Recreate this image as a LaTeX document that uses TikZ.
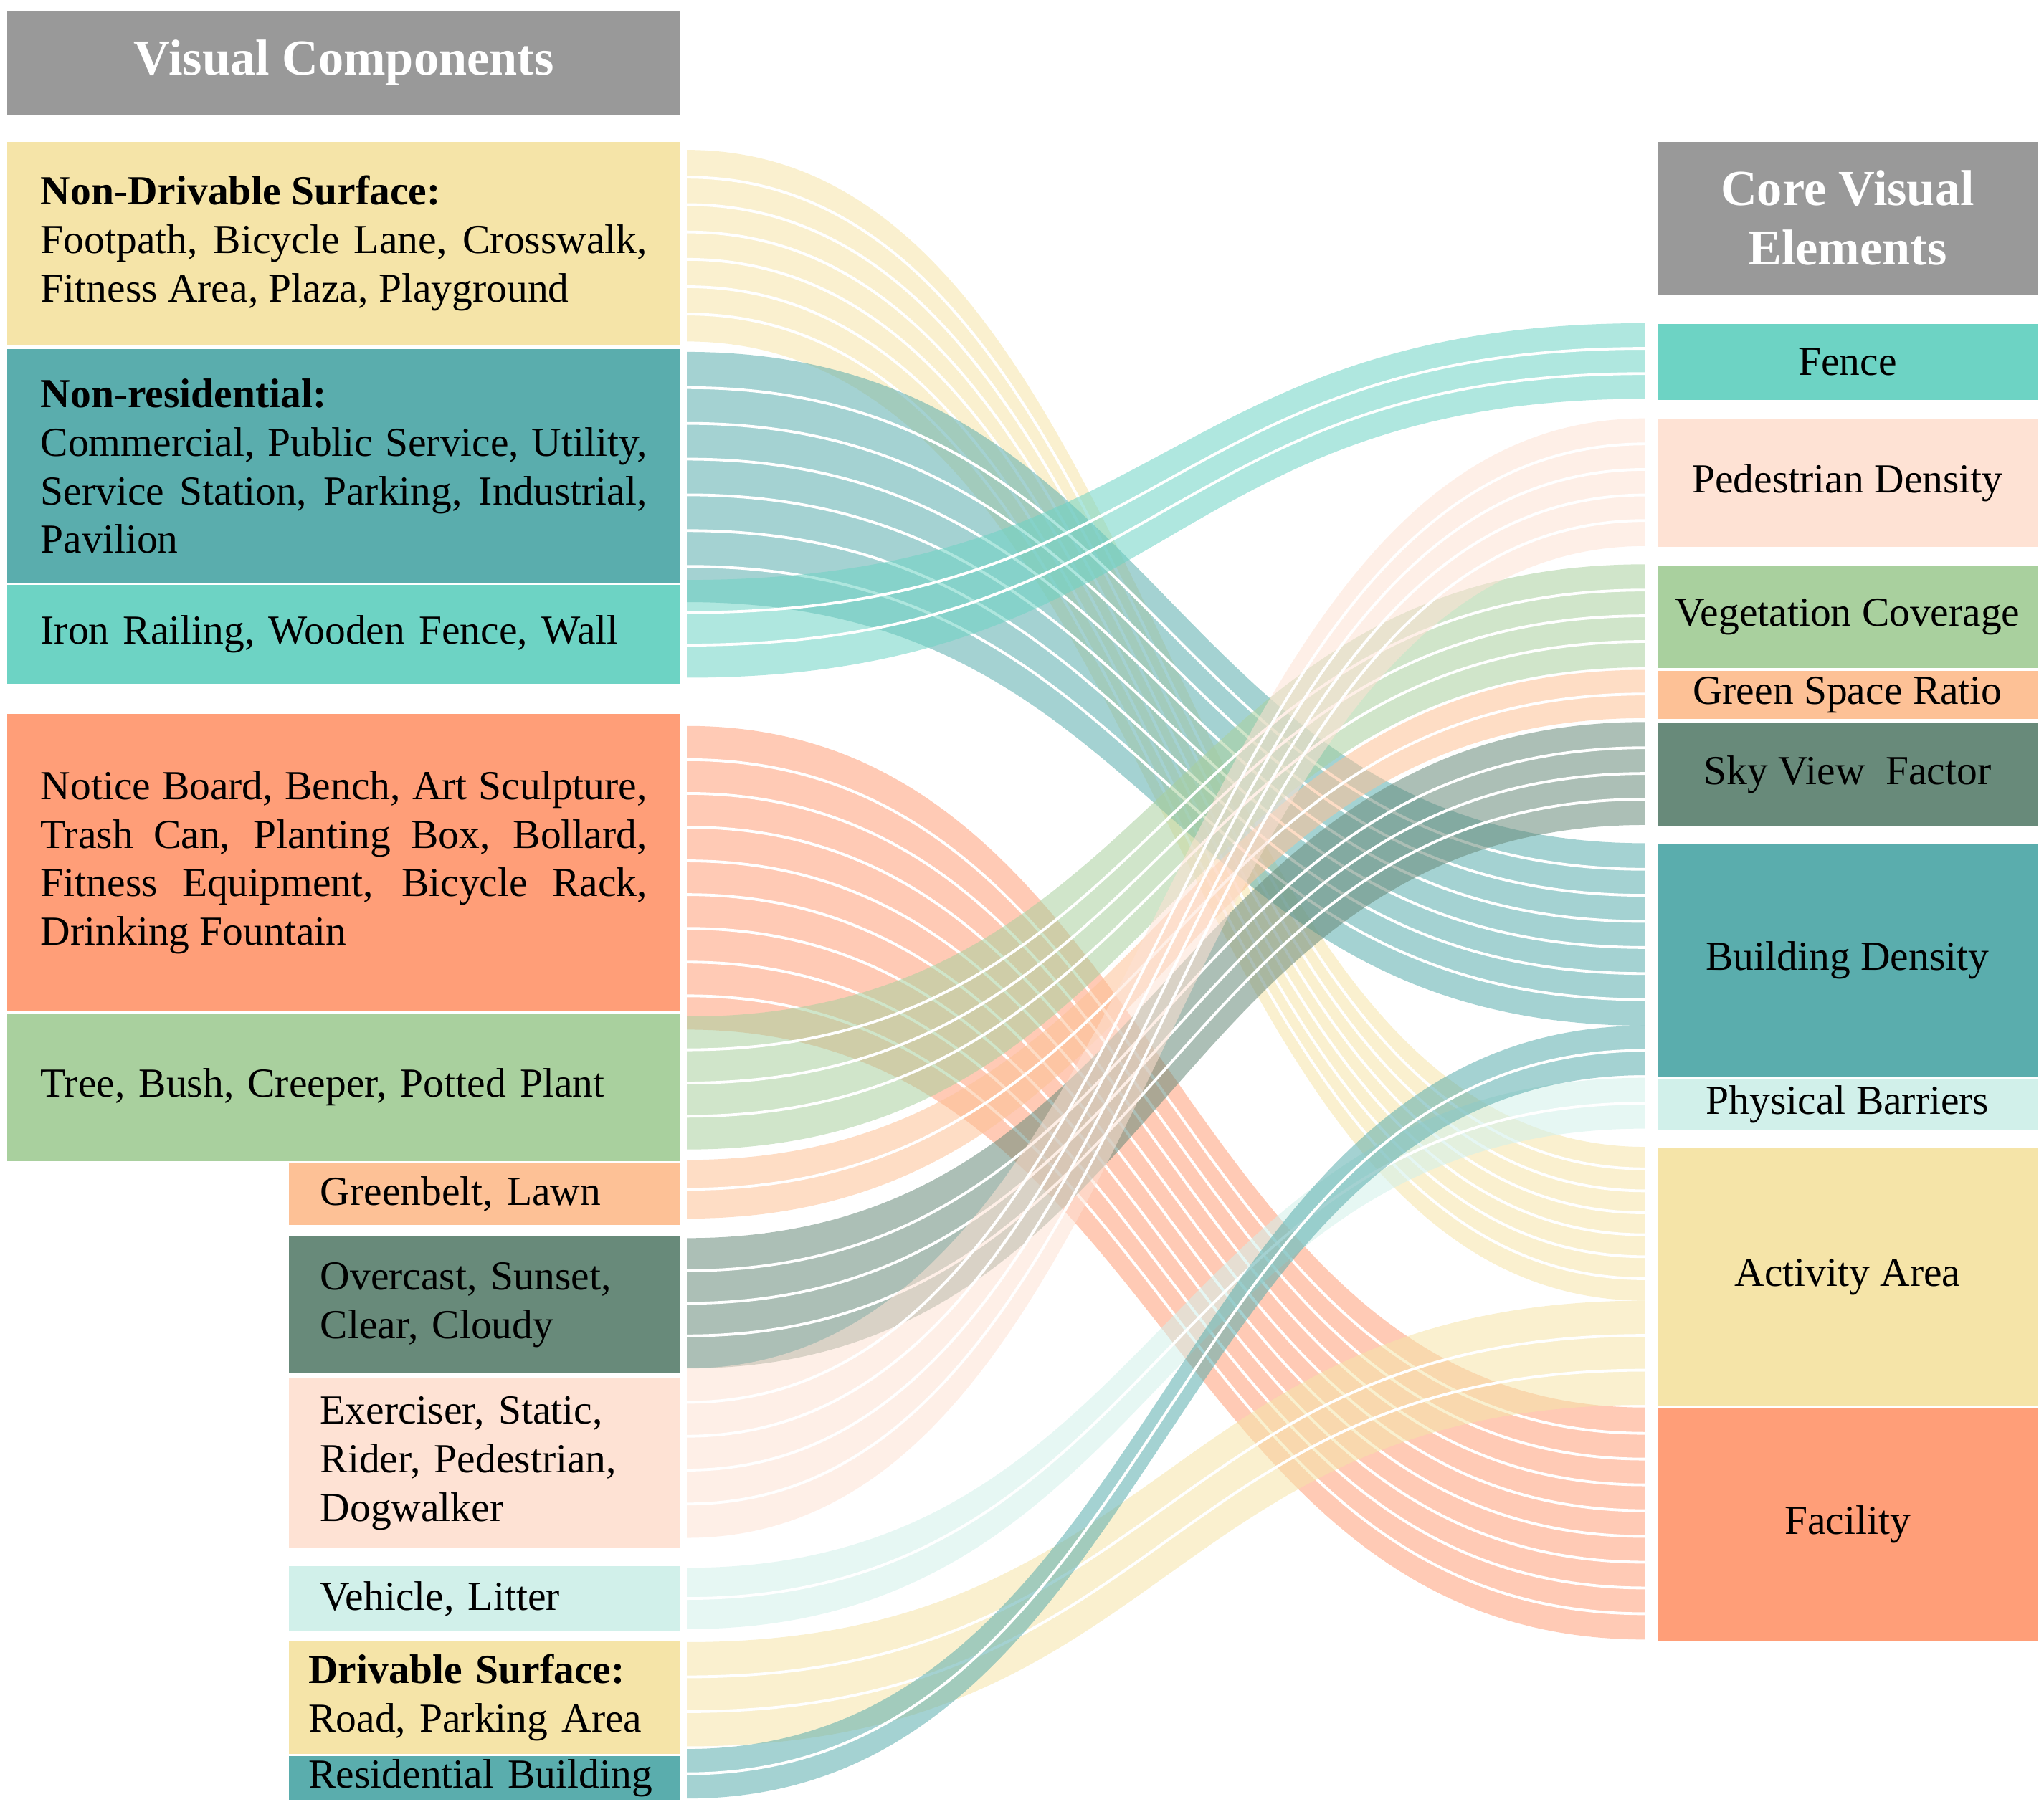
\documentclass[tikz,border=0pt]{standalone}
\usepackage{fontspec}
\setmainfont{Liberation Serif}
\definecolor{hdgray}{HTML}{999999}
\definecolor{sandc}{HTML}{F5E4A8}
\definecolor{tealc}{HTML}{5AADAD}
\definecolor{aquac}{HTML}{6DD3C4}
\definecolor{salmonc}{HTML}{FF9E78}
\definecolor{leafc}{HTML}{A9D09E}
\definecolor{peachc}{HTML}{FDC196}
\definecolor{slatec}{HTML}{688A7A}
\definecolor{blushc}{HTML}{FEE2D4}
\definecolor{mintc}{HTML}{D1F0EA}
% flow band: colour, left top, left bottom, right top, right bottom, separators
\newcommand{\flowband}[6]{%
  \fill[#1, fill opacity=.55] (527,#2) .. controls (895,#2) and (895,#4) .. (1262,#4)
    -- (1262,#5) .. controls (895,#5) and (895,#3) .. (527,#3) -- cycle;
  \foreach \k [evaluate=\k as \a using {#2+(#3-#2)*\k/(#6+1)},
               evaluate=\k as \b using {#4+(#5-#4)*\k/(#6+1)}] in {1,...,#6}
    \draw[white, line width=.6pt] (527,\a) .. controls (895,\a) and (895,\b) .. (1262,\b);
}
\begin{document}
\begin{tikzpicture}[
  x=0.01cm, y=-0.01cm,
  txt/.style={font=\fontsize{9}{10.6}\selectfont, inner sep=0pt, anchor=north west},
  wide/.style={txt, minimum width=5.16cm, text width=4.65cm, align=justify},
  narrow/.style={txt, minimum width=3cm, text width=2.52cm, align=left},
  rbox/.style={txt, minimum width=2.91cm, align=center},
  head/.style={txt, fill=hdgray, text=white, align=center,
    font=\fontsize{11}{13}\selectfont\bfseries},
  ]
  \useasboundingbox (0,0) rectangle (1568,1390);
  % left column
  \node[head, minimum width=5.16cm, minimum height=0.79cm] (vc) at (5,8) {Visual Components};
  \node[wide, fill=sandc, minimum height=1.56cm] (nds) at (5,108)
    {\textbf{Non-Drivable Surface:}\\ Footpath, Bicycle Lane, Crosswalk, Fitness Area, Plaza, Playground};
  \node[wide, fill=tealc, minimum height=1.80cm] (nres) at (5,267)
    {\textbf{Non-residential:}\\ Commercial, Public Service, Utility, Service Station, Parking, Industrial, Pavilion};
  \node[wide, fill=aquac, minimum height=0.76cm, align=left] (iron) at (5,448) {Iron Railing, Wooden Fence, Wall};
  \node[wide, fill=salmonc, minimum height=2.28cm] (notice) at (5,547)
    {Notice Board, Bench, Art Sculpture, Trash Can, Planting Box, Bollard, Fitness Equipment, Bicycle Rack, Drinking Fountain};
  \node[wide, fill=leafc, minimum height=1.13cm, align=left] (tree) at (5,777) {Tree, Bush, Creeper, Potted Plant};
  \node[narrow, fill=peachc, minimum height=0.47cm] (green) at (221,892) {Greenbelt, Lawn};
  \node[narrow, fill=slatec, minimum height=1.05cm] (sky) at (221,948) {Overcast, Sunset,\\ Clear, Cloudy};
  \node[narrow, fill=blushc, minimum height=1.30cm] (ped) at (221,1057) {Exerciser, Static,\\ Rider, Pedestrian,\\ Dogwalker};
  \node[narrow, fill=mintc, minimum height=0.50cm] (veh) at (221,1201) {Vehicle, Litter};
  \node[narrow, fill=sandc, minimum height=0.86cm, text width=2.7cm] (drv) at (221,1259) {\textbf{Drivable Surface:}\\ Road,~Parking~Area};
  \node[narrow, fill=tealc, minimum height=0.33cm, text width=2.7cm] (resb) at (221,1347) {Residential~Building};
  % right column
  \node[head, minimum width=2.91cm, minimum height=1.17cm] (cve) at (1271,108) {Core Visual\\ Elements};
  \node[rbox, fill=aquac, minimum height=0.58cm] (fence) at (1271,248) {Fence};
  \node[rbox, fill=blushc, minimum height=0.98cm] (pden) at (1271,321) {Pedestrian Density};
  \node[rbox, fill=leafc, minimum height=0.79cm] (vcov) at (1271,433) {Vegetation Coverage};
  \node[rbox, fill=peachc, minimum height=0.37cm] (gsr) at (1271,514) {Green Space Ratio};
  \node[rbox, fill=slatec, minimum height=0.79cm] (svf) at (1271,554) {Sky View\ \ Factor};
  \node[rbox, fill=tealc, minimum height=1.78cm] (bden) at (1271,647) {Building Density};
  \node[rbox, fill=mintc, minimum height=0.39cm] (pbar) at (1271,827) {Physical Barriers};
  \node[rbox, fill=sandc, minimum height=1.98cm] (act) at (1271,880) {Activity Area};
  \node[rbox, fill=salmonc, minimum height=1.78cm] (fac) at (1271,1080) {Facility};
  % flows
  \flowband{sandc}{115}{262}{880}{998}{6}
  \flowband{tealc}{270}{462}{647}{787}{6}
  \flowband{aquac}{445}{520}{248}{306}{2}
  \flowband{salmonc}{557}{790}{1080}{1258}{8}
  \flowband{leafc}{780}{882}{433}{512}{3}
  \flowband{peachc}{890}{935}{514}{551}{1}
  \flowband{slatec}{950}{1050}{554}{633}{3}
  \flowband{blushc}{1050}{1180}{321}{419}{4}
  \flowband{mintc}{1203}{1250}{827}{866}{1}
  \flowband{sandc}{1260}{1340}{998}{1078}{2}
  \flowband{tealc}{1342}{1380}{787}{825}{1}
\end{tikzpicture}
\end{document}
